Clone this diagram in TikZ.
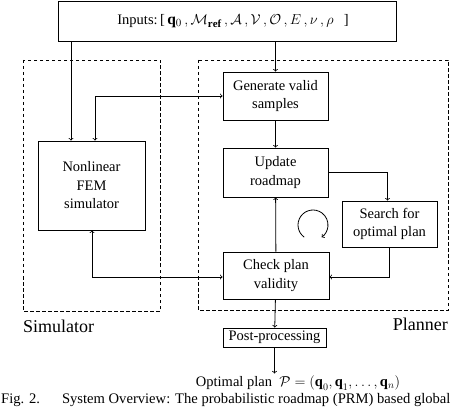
\documentclass[tikz,border=0pt]{standalone}
\usepackage{fontspec}
\setmainfont{Liberation Serif}
\usetikzlibrary{arrows,
		calc}

\begin{document}
\begin{tikzpicture}[x=1pt, y=1pt, >=to,
  block/.style={draw, line width=.9pt, align=center, inner sep=1pt,
    font=\fontsize{14.5}{18.5}\selectfont},
  group/.style={draw, line width=.8pt, dash pattern=on 3.5pt off 2.5pt},
  link/.style={line width=.8pt}]

\useasboundingbox (0,0) rectangle (474,-414);

% dashed groups
\draw [group] (23,-60) coordinate (s1) rectangle (160,-311) coordinate (s2);
\draw [group] (198,-60) coordinate (p1) rectangle (448,-310) coordinate (p2);
\node [anchor=base west, inner sep=0, font=\fontsize{18}{20}\selectfont] (simlabel) at (23,-332) {Simulator};
\node [anchor=base east, inner sep=0, font=\fontsize{18}{20}\selectfont] (planlabel) at (448,-330) {Planner};

% blocks
\node [block, minimum width=338pt, minimum height=40pt] (inputs) at (227,-21)
  {\hspace*{12pt}Inputs:\,[\,{\fontsize{15.5}{18}\selectfont$\mathbf{q}_0\,,\mathcal{M}_{\mathbf{ref}}\,,\mathcal{A}\,,\mathcal{V}\,,\mathcal{O}\,,E\,,\nu\,,\rho$}\hspace{10pt}]};
\node [block, minimum width=107pt, minimum height=89pt] (fem) at (91.5,-185.5) {Nonlinear\\FEM\\simulator};
\node [block, minimum width=105pt, minimum height=48pt] (gen) at (275.5,-96) {Generate valid\\samples};
\node [block, minimum width=105pt, minimum height=49pt] (upd) at (275.5,-172.5) {Update\\roadmap};
\node [block, minimum width=95pt, minimum height=46pt] (search) at (389.5,-224) {Search for\\optimal plan};
\node [block, minimum width=106pt, minimum height=47pt] (check) at (276,-275.5) {Check plan\\validity};
\node [block, minimum width=103pt, minimum height=19pt] (post) at (274.5,-337.5) {Post-processing};
\node [anchor=base, inner sep=1pt, font=\fontsize{14.5}{17}\selectfont] (out) at (298,-386.5)
  {Optimal plan\enspace $\mathcal{P}=\mathbf{(q}_0\mathbf{,q}_1,\ldots,\mathbf{q}_n\mathbf{)}$};

% connectors
\draw [link, ->] ([xshift=-20.5pt]fem.north |- inputs.south) -- ([xshift=-20.5pt]fem.north);
\draw [link, ->] (inputs.south -| gen.north) -- (gen.north);
\draw [link, <->] ([xshift=3.5pt]fem.north) |- (gen.west);
\draw [link, ->] (gen) -- (upd);
\draw [link, ->] (upd.east) -| ([xshift=-2pt]search.north);
\draw [link, ->] (search.south) |- ([yshift=-1.5pt]check.east);
\draw [link, ->] (check) -- (upd);
\draw [link, <->] ([xshift=.5pt]fem.south) |- ([yshift=-1.5pt]check.west);
\draw [link, ->] (check) -- (post);
\draw [link, ->] (post.south) -- ([yshift=1pt]post.south |- out.north);

% loop mark
\coordinate (loop) at (313,-225);
\draw [link, ->] ($(loop)+(234:15pt)$) arc (234:-55:15pt);

% caption
\node [anchor=base west, inner sep=0, font=\fontsize{14.6}{16}\selectfont] (caption) at (1,-403.5)
  {Fig. 2.\hspace{1.5em}System Overview: The probabilistic roadmap (PRM) based global};

\end{tikzpicture}
\end{document}
